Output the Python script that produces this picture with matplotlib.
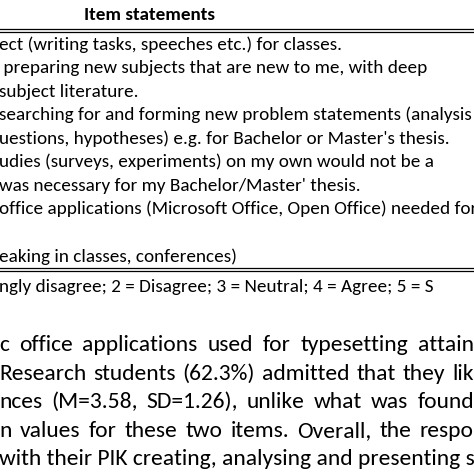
import matplotlib
matplotlib.use("Agg")
import matplotlib.pyplot as plt

header = "Item statements"
table_rows = [
    "ect (writing tasks, speeches etc.) for classes.",
    " preparing new subjects that are new to me, with deep",
    "subject literature.",
    "searching for and forming new problem statements (analysis",
    "uestions, hypotheses) e.g. for Bachelor or Master's thesis.",
    "udies (surveys, experiments) on my own would not be a",
    "was necessary for my Bachelor/Master' thesis.",
    "office applications (Microsoft Office, Open Office) needed for",
    "",
    "eaking in classes, conferences)",
]
row_y = [45, 68, 92, 115, 139, 162, 186, 209, 233, 257]
note = "ngly disagree; 2 = Disagree; 3 = Neutral; 4 = Agree; 5 = S"
body = [
    ("c office applications used for typesetting attain", True, 474),
    ("Research students (62.3%) admitted that they lik", True, 474),
    ("nces (M=3.58, SD=1.26), unlike what was found", True, 474),
    ("n values for these two items. Overall, the respo", True, 474),
    ("with their PIK creating, analysing and presenting s", False, 0),
]
body_y = [345, 374, 402, 431, 459]

W = H = 474
fig = plt.figure(figsize=(4.74, 4.74), dpi=100)
ax = fig.add_axes([0, 0, 1, 1])
ax.set_xlim(0, W); ax.set_ylim(H, 0); ax.axis("off")
fam = ["Carlito", "Lato", "DejaVu Sans"]
tfs = 13.8
bfs = 16.9

ax.text(150, 15, header, fontsize=tfs, fontweight="bold", family=fam, ha="center", va="center")
for y in (28.5, 31.5, 267.5, 270.5):
    ax.plot([0, W], [y, y], color="black", lw=0.9)
for t, y in zip(table_rows, row_y):
    ax.text(-1, y, t, fontsize=tfs, family=fam, va="center")
ax.text(-1, 287, note, fontsize=tfs, family=fam, va="center")

fig.canvas.draw()
r = fig.canvas.get_renderer()
def width(s):
    t = ax.text(0, 0, s, fontsize=bfs, family=fam)
    bb = t.get_window_extent(r)
    t.remove()
    return bb.width
for (line, just, xend), y in zip(body, body_y):
    x0 = -1
    if just:
        words = line.split(" ")
        ws = [width(w) for w in words]
        gap = (xend - x0 - sum(ws)) / (len(words) - 1)
        x = x0
        for w, wd in zip(words, ws):
            ax.text(x, y, w, fontsize=bfs, family=fam, va="center")
            x += wd + gap
    else:
        ax.text(x0, y, line, fontsize=bfs, family=fam, va="center")

fig.savefig("out.png", dpi=100)
